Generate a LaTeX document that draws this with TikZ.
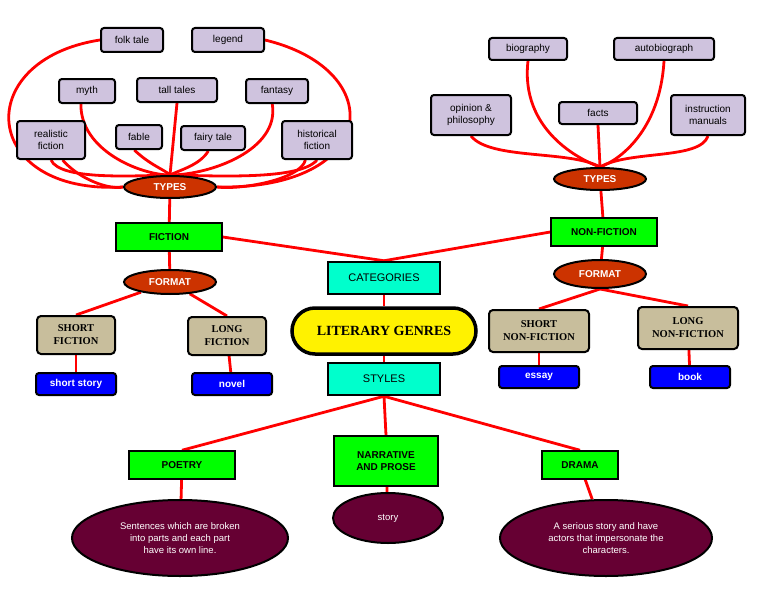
\documentclass[tikz,border=0pt]{standalone}
\usepackage{fontspec}
\setmainfont{Liberation Sans}
\newfontfamily\serf{Liberation Serif}
\usetikzlibrary{shapes.geometric}
\pgfdeclarelayer{bg}
\pgfsetlayers{bg,main}
\definecolor{lil}{HTML}{CFC3DE}
\definecolor{ov}{HTML}{CC3300}
\definecolor{gr}{HTML}{00FF00}
\definecolor{tan}{HTML}{C8BE9C}
\definecolor{bl}{HTML}{0000FF}
\definecolor{aq}{HTML}{00FFCC}
\definecolor{mar}{HTML}{660033}
\tikzset{
 x=1pt,y=-1pt,
 lk/.style={draw=red,line width=2.8pt},
 lbox/.style={draw=black,line width=2pt,fill=lil,rounded corners=3pt,font=\fontsize{10}{11.5}\selectfont,align=center,minimum height=24pt,inner sep=2pt},
 oval/.style={ellipse,draw=black,line width=2pt,fill=ov,text=white,font=\bfseries\fontsize{10}{11}\selectfont,minimum width=92pt,minimum height=22pt,inner sep=0pt},
 gbox/.style={draw=black,line width=1.5pt,fill=gr,font=\bfseries\fontsize{10}{12}\selectfont,align=center,minimum height=28pt},
 tbox/.style={draw=black,line width=2pt,fill=tan,rounded corners=4pt,font=\serf\bfseries\fontsize{10.5}{13}\selectfont,align=center,minimum height=38pt},
 bbox/.style={draw=black,line width=2pt,fill=bl,text=white,rounded corners=3pt,font=\bfseries\fontsize{10}{11}\selectfont,minimum width=80pt,minimum height=22pt},
 scroll/.style={draw=black,line width=2.5pt,fill=aq,font=\fontsize{11}{12}\selectfont,minimum width=112pt,minimum height=32pt},
 mell/.style={ellipse,draw=black,line width=2pt,fill=mar,text=white,font=\fontsize{9.5}{12}\selectfont,align=center,inner sep=0pt}
}
\begin{document}
\begin{tikzpicture}
\useasboundingbox (0,0) rectangle (768,594);
% fiction types
\node[lbox,minimum width=62pt] (folk) at (132,40) {folk tale};
\node[lbox,minimum width=72pt] (leg) at (228,40) {legend};
\node[lbox,minimum width=56pt] (myth) at (87,91) {myth};
\node[lbox,minimum width=80pt] (tall) at (177,90) {tall tales};
\node[lbox,minimum width=62pt] (fan) at (277,91) {fantasy};
\node[lbox,minimum width=68pt,minimum height=38pt] (real) at (51,140) {realistic\\fiction};
\node[lbox,minimum width=46pt] (fab) at (139,137) {fable};
\node[lbox,minimum width=64pt] (fairy) at (213,138) {fairy tale};
\node[lbox,minimum width=70pt,minimum height=38pt] (hist) at (317,140) {historical\\fiction};
\node[oval] (typesL) at (170,187) {TYPES};
\node[gbox,minimum width=106pt] (fic) at (169,237) {FICTION};
\node[oval,minimum height=24pt] (formL) at (170,282) {FORMAT};
\node[tbox,minimum width=78pt] (sf) at (76,335) {SHORT\\FICTION};
\node[tbox,minimum width=78pt] (lf) at (227,336) {LONG\\FICTION};
\node[bbox] (ss) at (76,384) {short story};
\node[bbox] (nov) at (232,384) {novel};
% center
\node[scroll] (cat) at (384,278) {CATEGORIES};
\node[draw=black,line width=3.5pt,fill=yellow,rounded corners=23pt,minimum width=184pt,minimum height=46pt,font=\serf\bfseries\fontsize{14}{15}\selectfont] (lg) at (384,331) {LITERARY GENRES};
\node[scroll] (sty) at (384,379) {STYLES};
% non-fiction
\node[lbox,minimum width=78pt,minimum height=22pt] (bio) at (528,49) {biography};
\node[lbox,minimum width=100pt,minimum height=22pt] (auto) at (664,49) {autobiograph};
\node[lbox,minimum width=80pt,minimum height=40pt] (opin) at (471,115) {opinion \&\\philosophy};
\node[lbox,minimum width=78pt,minimum height=22pt] (facts) at (598,113) {facts};
\node[lbox,minimum width=74pt,minimum height=40pt] (instr) at (708,115) {instruction\\manuals};
\node[oval] (typesR) at (600,179) {TYPES};
\node[gbox,minimum width=106pt] (nf) at (604,232) {NON-FICTION};
\node[oval,minimum height=28pt] (formR) at (600,274) {FORMAT};
\node[tbox,minimum width=100pt,minimum height=42pt] (snf) at (539,331) {SHORT\\NON-FICTION};
\node[tbox,minimum width=100pt,minimum height=42pt] (lnf) at (688,328) {LONG\\NON-FICTION};
\node[bbox] (ess) at (539,377) {essay};
\node[bbox] (book) at (690,377) {book};
% styles
\node[gbox,minimum width=106pt] (poe) at (182,465) {POETRY};
\node[gbox,minimum width=104pt,minimum height=50pt] (nar) at (386,461) {NARRATIVE\\AND PROSE};
\node[gbox,minimum width=76pt] (dra) at (580,465) {DRAMA};
\node[mell,minimum width=216pt,minimum height=76pt] (pe) at (180,538) {Sentences which are broken\\into parts and each part\\have its own line.};
\node[mell,minimum width=110pt,minimum height=50pt] (se) at (388,518) {story};
\node[mell,minimum width=212pt,minimum height=76pt] (de) at (606,538) {A serious story and have\\actors that impersonate the\\characters.};
% connectors
\begin{pgfonlayer}{bg}
\draw[lk] (folk.west) .. controls (-30,60) and (-20,195) .. (typesL.west);
\draw[lk] (leg.east) .. controls (390,70) and (380,190) .. (typesL.east);
\draw[lk] (real.south) .. controls (60,180) and (130,176) .. (typesL.north);
\draw[lk] (real.-60) .. controls (80,180) and (110,190) .. (typesL.west);
\draw[lk] (hist.south) .. controls (300,180) and (220,176) .. (typesL.north);
\draw[lk] (hist.-120) .. controls (300,180) and (240,190) .. (typesL.east);
\draw[lk] (myth.-115) .. controls (80,150) and (140,175) .. (typesL.north);
\draw[lk] (tall.south) -- (typesL.north);
\draw[lk] (fan.-110) .. controls (280,150) and (210,175) .. (typesL.north);
\draw[lk] (fab.-110) .. controls (150,165) and (165,170) .. (typesL.north);
\draw[lk] (fairy.-110) .. controls (200,165) and (180,170) .. (typesL.north);
\draw[lk] (typesL) -- (fic);
\draw[lk] (fic) -- (formL);
\draw[lk] (formL) -- (sf.north);
\draw[lk] (formL) -- (lf.north);
\draw[lk] (sf) -- (ss);
\draw[lk] (lf) -- (nov);
\draw[lk] (fic.east) -- (cat.north);
\draw[lk] (nf.west) -- (cat.north);
\draw[lk] (cat) -- (lg);
\draw[lk] (lg) -- (sty);
\draw[lk] (bio.south) .. controls (520,130) and (580,160) .. (typesR.north);
\draw[lk] (auto.south) .. controls (660,130) and (620,160) .. (typesR.north);
\draw[lk] (opin.south) .. controls (490,160) and (570,150) .. (typesR.north);
\draw[lk] (facts.south) -- (typesR.north);
\draw[lk] (instr.south) .. controls (700,160) and (630,150) .. (typesR.north);
\draw[lk] (typesR) -- (nf);
\draw[lk] (nf) -- (formR);
\draw[lk] (formR.south) -- (snf.north);
\draw[lk] (formR.south) -- (lnf.north);
\draw[lk] (snf) -- (ess);
\draw[lk] (lnf) -- (book);
\draw[lk] (sty.south) -- (poe.north);
\draw[lk] (sty.south) -- (nar.north);
\draw[lk] (sty.south) -- (dra.north);
\draw[lk] (poe) -- (pe);
\draw[lk] (nar) -- (se);
\draw[lk] (dra) -- (de);
\end{pgfonlayer}
\end{tikzpicture}
\end{document}
